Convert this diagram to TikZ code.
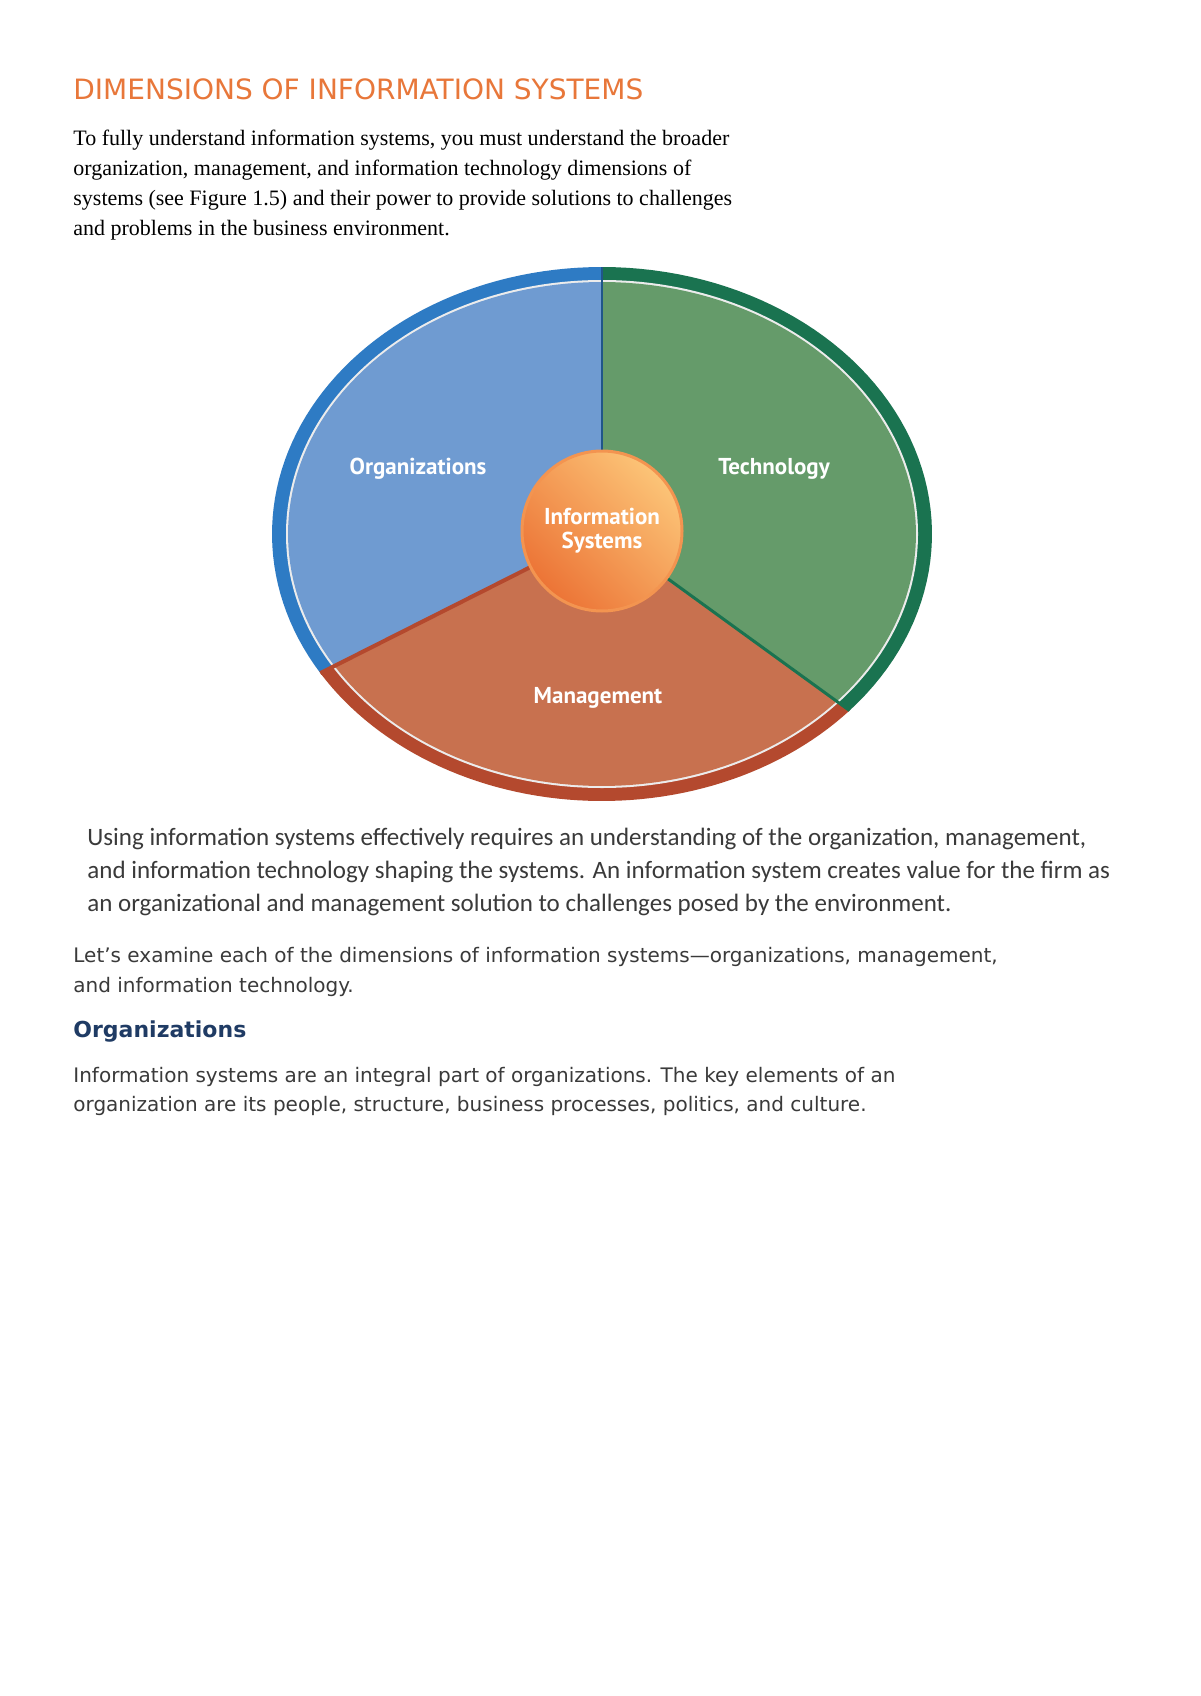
\documentclass[tikz,border=0pt]{standalone}
\usepackage{fontspec}
\setmainfont{Liberation Serif}
\newfontfamily\djv{DejaVu Sans}
\newfontfamily\capfnt{Carlito}
\newfontfamily\lab{PT Sans}
\definecolor{ttl}{HTML}{E8773A}
\definecolor{hd}{HTML}{1F3B64}
\definecolor{bfill}{HTML}{6F9BD1}
\definecolor{bring}{HTML}{2E7BC4}
\definecolor{gfill}{HTML}{659B6A}
\definecolor{gring}{HTML}{1A7350}
\definecolor{rfill}{HTML}{C8714F}
\definecolor{rring}{HTML}{B4492E}
\definecolor{oA}{HTML}{FCC477}
\definecolor{oB}{HTML}{EC7436}
\definecolor{gtext}{HTML}{3A3A3A}
\tikzset{
 txt/.style={anchor=west,inner sep=0pt},
 lbl/.style={text=white,font=\lab\bfseries\fontsize{11.5}{13}\selectfont,inner sep=0pt,align=center},
}
\begin{document}
\begin{tikzpicture}[x=0.5pt,y=-0.5pt]
\useasboundingbox (0,0) rectangle (1200,1696);
\fill[white] (0,0) rectangle (1200,1696);
\def\cx{602}\def\cy{534}
% ring sectors
\fill[bring] (\cx,\cy) -- plot[domain=148.6:270,samples=60,variable=\t] ({\cx+330*cos(\t)},{\cy+267*sin(\t)}) -- cycle;
\fill[gring] (\cx,\cy) -- plot[domain=270:401.4,samples=60,variable=\t] ({\cx+330*cos(\t)},{\cy+267*sin(\t)}) -- cycle;
\fill[rring] (\cx,\cy) -- plot[domain=41.4:148.6,samples=60,variable=\t] ({\cx+330*cos(\t)},{\cy+267*sin(\t)}) -- cycle;
\fill[white!85!gray] (\cx,\cy) ellipse [x radius=316,y radius=254];
% inner sectors
\fill[bfill] (\cx,\cy) -- plot[domain=148.6:270,samples=60,variable=\t] ({\cx+314*cos(\t)},{\cy+252*sin(\t)}) -- cycle;
\fill[gfill] (\cx,\cy) -- plot[domain=270:401.4,samples=60,variable=\t] ({\cx+314*cos(\t)},{\cy+252*sin(\t)}) -- cycle;
\fill[rfill] (\cx,\cy) -- plot[domain=41.4:148.6,samples=60,variable=\t] ({\cx+314*cos(\t)},{\cy+252*sin(\t)}) -- cycle;
\coordinate (pt) at ({\cx},{\cy-267});
\coordinate (pl) at ({\cx+330*cos(148.6)},{\cy+267*sin(148.6)});
\coordinate (pr) at ({\cx+330*cos(41.4)},{\cy+267*sin(41.4)});
\node[circle,minimum size=81pt,inner sep=0pt] (is) at (\cx,531) {};
\draw[bring!70!black,line width=1.2pt] (is.center) -- (pt);
\draw[rring,line width=2pt] (is.center) -- (pl);
\draw[gring,line width=1.5pt] (is.center) -- (pr);
\shade[left color=oA,right color=oB,shading angle=-45] (is.center) circle[radius=80];
\draw[oB!60!oA,line width=1.5pt] (is.center) circle[radius=80];
\node[lbl] at (is.center) {Information\\[-1pt]Systems};
\node[lbl] (lo) at (418,469) {Organizations};
\node[lbl] (lt) at (774,469) {Technology};
\node[lbl] (lm) at (598,698) {Management};
% texts
\node[txt,text=ttl,font=\djv\fontsize{14}{16}\selectfont] (title) at (73,89) {DIMENSIONS OF INFORMATION SYSTEMS};
\begin{scope}[every node/.append style={txt,font=\fontsize{11}{13}\selectfont}]
\node (b1) at (73,140) {To fully understand information systems, you must understand the broader};
\node (b2) at (73,170) {organization, management, and information technology dimensions of};
\node (b3) at (73,200) {systems (see Figure 1.5) and their power to provide solutions to challenges};
\node (b4) at (73,230) {and problems in the business environment.};
\end{scope}
\begin{scope}[every node/.append style={txt,text=gtext,font=\capfnt\fontsize{12.5}{14}\selectfont}]
\node (c1) at (87,839) {Using information systems effectively requires an understanding of the organization, management,};
\node (c2) at (87,872) {and information technology shaping the systems. An information system creates value for the firm as};
\node (c3) at (87,905) {an organizational and management solution to challenges posed by the environment.};
\end{scope}
\begin{scope}[every node/.append style={txt,text=gtext,font=\djv\fontsize{10}{12}\selectfont}]
\node (p1) at (73,957) {Let’s examine each of the dimensions of information systems—organizations, management,};
\node (p2) at (73,987) {and information technology.};
\node (p3) at (73,1077) {Information systems are an integral part of organizations. The key elements of an};
\node (p4) at (73,1106) {organization are its people, structure, business processes, politics, and culture.};
\end{scope}
\node[txt,text=hd,font=\djv\bfseries\fontsize{11}{13}\selectfont] (h) at (73,1032) {Organizations};
\end{tikzpicture}
\end{document}
